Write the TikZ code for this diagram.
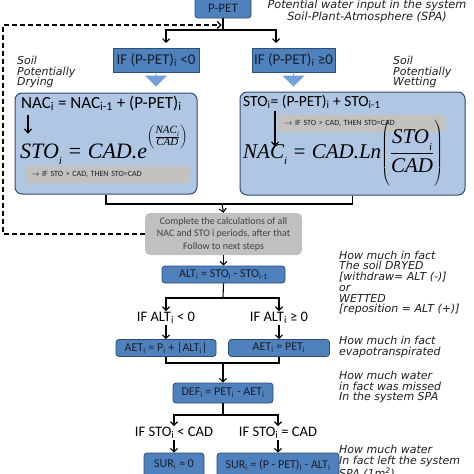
\documentclass[tikz,border=0pt]{standalone}
\usepackage{fontspec}
\setmainfont{Carlito}
\newfontfamily\notefont{DejaVu Sans}
\newfontfamily\eqfont{Liberation Serif}
\usetikzlibrary{arrows.meta,shapes.arrows}

\definecolor{boxBlue}{RGB}{79,129,189}
\definecolor{boxEdge}{RGB}{44,77,117}
\definecolor{paleBlue}{RGB}{176,199,228}
\definecolor{arrowBlue}{RGB}{116,160,216}
\definecolor{barGray}{RGB}{196,194,190}
\definecolor{calcGray}{RGB}{192,192,192}
\definecolor{inkDark}{RGB}{22,30,46}
\definecolor{noteInk}{RGB}{30,30,30}

\newcommand{\lo}[1]{\textsubscript{#1}}
\newcommand{\eqsub}[1]{\raisebox{-0.3em}{\fontsize{11}{11}\selectfont #1}}

\begin{document}
\begin{tikzpicture}
[x=1pt,y=-1pt,
  arrowDecorate/.style={-{Straight Barb[length=3.5pt,width=7pt]},line width=1.1pt},%
  elbowDecorate/.style={arrowDecorate,to path={-| (\tikztotarget) \tikztonodes}},%
  lineDecorate/.style={line width=1.1pt},%
  eqArrow/.style={-{Straight Barb[length=4pt,width=7pt]},line width=1.2pt},%
  dashDecorate/.style={-{Straight Barb[length=3.5pt,width=7pt]},line width=1.2pt,dash pattern=on 5pt off 3pt},%
  boxDecorate/.style={rectangle,rounded corners=3pt,draw=boxEdge,fill=boxBlue,text=inkDark,line width=0.8pt,inner sep=1pt,font=\fontsize{12}{12}\selectfont},%
  ifDecorate/.style={boxDecorate,rounded corners=0pt,minimum height=24pt,font=\fontsize{15}{15}\selectfont},%
  bigDecorate/.style={rectangle,rounded corners=7pt,draw=boxEdge,fill=paleBlue,line width=1pt},%
  blockDecorate/.style={single arrow,shape border rotate=270,fill=arrowBlue,inner sep=0pt,minimum height=14pt,minimum width=22pt,single arrow head extend=5pt},%
  barDecorate/.style={rectangle,fill=barGray,text=inkDark,align=left,inner xsep=6pt,inner ysep=0pt,minimum height=17pt,font=\fontsize{8}{8}\selectfont},%
  calcDecorate/.style={rectangle,rounded corners=5pt,fill=calcGray,text=black!75,align=center,minimum width=157pt,minimum height=42pt,font=\fontsize{10}{12.5}\selectfont},%
  condDecorate/.style={inner sep=1pt,text=black,font=\fontsize{14.5}{14.5}\selectfont},%
  noteDecorate/.style={anchor=west,align=left,inner sep=0pt,text=noteInk,font=\notefont\itshape\fontsize{11}{10.7}\selectfont}]
\useasboundingbox (0,0) rectangle (474,474);

%% top part
\node[boxDecorate,minimum width=56pt,minimum height=20pt,font=\fontsize{13}{13}\selectfont] (ppet) at (223,8) {P-PET};
\node[ifDecorate,minimum width=86pt] (ifNeg) at (156,60) {IF (P-PET)\lo{i} <0};
\node[ifDecorate,minimum width=83pt] (ifPos) at (293.5,60) {IF (P-PET)\lo{i} ≥0};
\foreach \src in {ifNeg,ifPos}
{
  \node[blockDecorate,anchor=tail] at (\src.south) {};
}

%% drying box
\node[bigDecorate,minimum width=182pt,minimum height=101pt] (bigLeft) at (106,143.5) {};
\node[anchor=base west,inner sep=0pt,font=\fontsize{17}{17}\selectfont] (nacEq) at (21,108) {NAC\lo{i} = NAC\lo{i-1} + (P-PET)\lo{i}};
\node[anchor=base west,inner sep=0pt] (stoEq) at (20,158) {\eqfont\itshape\fontsize{22}{22}\selectfont STO\eqsub{i} = CAD.e\raisebox{18pt}{\fontsize{11}{11}\selectfont$\left(\frac{\mbox{\eqfont\itshape\fontsize{11}{11}\selectfont NAC\raisebox{-0.3em}{\fontsize{7}{7}\selectfont i}}}{\mbox{\eqfont\itshape\fontsize{11}{11}\selectfont CAD}}\right)$}};
\node[barDecorate,text width=153pt] (barLeft) at (107.5,174.5) {$\rightarrow$ IF STO > CAD, THEN STO=CAD};
\draw[eqArrow] ([xshift=7pt,yshift=-4pt]nacEq.south west) -- ++(0,19);

%% wetting box
\node[bigDecorate,minimum width=225pt,minimum height=103pt] (bigRight) at (352.5,143.5) {};
\node[anchor=base west,inner sep=0pt,font=\fontsize{15.5}{15.5}\selectfont] (stoPlus) at (243,106) {STO\lo{i}= (P-PET)\lo{i} + STO\lo{i-1}};
\node[barDecorate,text width=155pt] (barRight) at (361.5,123.5) {$\rightarrow$ IF STO > CAD, THEN STO=CAD};
\node[anchor=base west,inner sep=0pt] (nacLn) at (243,158) {\eqfont\itshape\fontsize{21}{21}\selectfont NAC\eqsub{i} = CAD.Ln$\displaystyle\left(\vcenter{\hbox{\rule{0pt}{68pt}}}\frac{\mbox{\eqfont\itshape\fontsize{21}{21}\selectfont STO\eqsub{i}}}{\mbox{\eqfont\itshape\fontsize{21}{21}\selectfont CAD}}\right)$};
\draw[eqArrow] ([xshift=32pt,yshift=-2pt]stoPlus.south west) -- ++(0,36);

%% lower chain
\node[calcDecorate] (calcBox) at (223.5,234) {Complete the calculations of all\\NAC and STO i periods, after that\\Follow to next steps};
\node[boxDecorate,minimum width=123pt,minimum height=17pt] (altBox) at (223.5,274.5) {ALT\lo{i} = STO\lo{i} - STO\lo{i-1}};
\node[condDecorate] (altNeg) at (166,318) {IF ALT\lo{i} < 0};
\node[condDecorate] (altPos) at (279,318) {IF ALT\lo{i} ≥ 0};
\node[boxDecorate,minimum width=100pt,minimum height=17pt] (aetNeg) at (166,348) {AET\lo{i} = P\lo{i} + |ALT\lo{i}|};
\node[boxDecorate,minimum width=101pt,minimum height=17pt] (aetPos) at (279,348) {AET\lo{i} = PET\lo{i}};
\node[boxDecorate,minimum width=100pt,minimum height=20pt] (defBox) at (223,393) {DEF\lo{i} = PET\lo{i} - AET\lo{i}};
\node[condDecorate] (stoNeg) at (174,433) {IF STO\lo{i} < CAD};
\node[condDecorate] (stoSame) at (278,433) {IF STO\lo{i} = CAD};
\node[boxDecorate,minimum width=60pt,minimum height=24pt] (surNeg) at (174,465) {SUR\lo{i} = 0};
\node[boxDecorate,minimum width=122pt,minimum height=24pt] (surPos) at (278,465) {SUR\lo{i} = (P - PET)\lo{i} - ALT\lo{i}};

%% notes
\node[noteDecorate,anchor=center,align=center,font=\notefont\itshape\fontsize{11.3}{10}\selectfont] (noteTop) at (367,11.5) {Potential water input in the system\\Soil-Plant-Atmosphere (SPA)};
\node[noteDecorate] (noteDry) at (17,72) {Soil\\Potentially\\Drying};
\node[noteDecorate] (noteWet) at (393,72) {Soil\\Potentially\\Wetting};
\node[noteDecorate] (noteAlt) at (339,283) {How much in fact\\The soil DRYED\\{[withdraw= ALT (-)]}\\or\\WETTED\\{[reposition = ALT (+)]}};
\node[noteDecorate] (noteAet) at (339,347) {How much in fact\\evapotranspirated};
\node[noteDecorate] (noteDef) at (339,387) {How much water\\in fact was missed\\In the system SPA};
\node[noteDecorate] (noteSur) at (339,462) {How much water\\In fact left the system\\SPA (1m\textsuperscript{2})};

%% connectors
\coordinate (splitTop) at (223,30);
\coordinate (tipNeg) at (166,43);
\coordinate (tipPos) at (276,43);
\coordinate (backCorner) at (3,25);
\coordinate (mergeTop) at (222,204);
\coordinate (altSplit) at (223,298);
\coordinate (aetMerge) at (223,363);
\coordinate (defSplit) at (223,415);
\draw[lineDecorate] (ppet.south) -- (splitTop);
\draw[dashDecorate,shorten >=1.5pt] (calcBox.west) -| (backCorner) -- (backCorner -| ppet.south);
\draw[lineDecorate] (bigLeft.south) |- (mergeTop) -| (bigRight.south);
\draw[lineDecorate] (aetNeg.south) |- (aetMerge) -| (aetPos.south);
\draw[lineDecorate] (altBox.south) -- (altSplit);
\draw[lineDecorate] (defBox.south) -- (defSplit);
\path
\foreach \startnode/\endnode in {splitTop/tipNeg, splitTop/tipPos, altSplit/altNeg.north, altSplit/altPos.north, defSplit/stoNeg.north, defSplit/stoSame.north}
{
  (\startnode) edge[elbowDecorate] (\endnode)
}
\foreach \startnode/\endnode in {mergeTop/calcBox.north, calcBox.south/altBox.north, aetMerge/defBox.north, altNeg.south/aetNeg.north, altPos.south/aetPos.north, stoNeg.south/surNeg.north, stoSame.south/surPos.north}
{
  (\startnode) edge[arrowDecorate] (\endnode)
};
\end{tikzpicture}
\end{document}
